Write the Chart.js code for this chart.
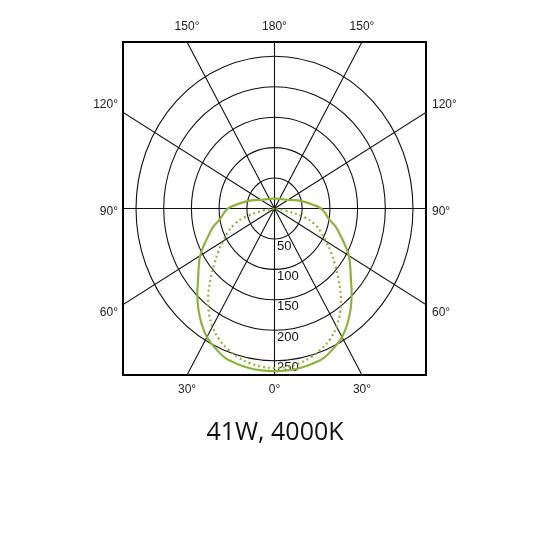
<!DOCTYPE html>
<html>
<head>
<meta charset="utf-8">
<script src="https://cdn.jsdelivr.net/npm/chart.js@4"></script>
<style>
  body { margin: 0; background: #fff; }
  #wrap { position: relative; width: 550px; height: 550px; }
  #title { position: absolute; left: 0; top: 412px; width: 550px; text-align: center;
           font-family: "Open Sans", sans-serif; font-size: 25px; line-height: 36px; color: #111; }
</style>
</head>
<body>
<div id="wrap">
  <canvas id="polarChart" width="550" height="550"></canvas>
  <div id="title">41W, 4000K</div>
</div>
<script>
// Angles measured from nadir (0° = straight down), degrees
const solidAngles = [0, 5, 10, 15, 20, 25, 30, 35, 40, 45, 50, 55, 60, 65, 70, 75, 80, 85, 90,
                     95, 100, 105, 110, 115, 120, 130, 140, 150, 160, 170, 180];
// C0-180 plane, candela values (solid line)
const solidValues = [267, 267, 266, 264, 261, 253, 244, 230, 214, 197, 180, 167, 155, 140, 126, 114, 100, 92, 84,
                     70, 58, 48, 40, 33, 28, 23, 20, 18, 17, 16.5, 16];

const dottedAngles = [0, 5, 10, 15, 20, 25, 30, 35, 40, 45, 50, 55, 60, 65, 70, 75, 80, 85];
// C90-270 plane (dotted line)
const dottedValues = [262, 261, 258, 253, 246, 237, 224, 207, 186, 163, 142, 124, 107, 93, 78, 56, 22, 0];

const rings = [50, 100, 150, 200, 250];
const spokes = [0, 30, 60, 90, 120, 150, 180, 210, 240, 270, 300, 330];
const axisMax = 273.5;

// turn a symmetric intensity curve into x/y points (left half then right half)
const toPoints = (angles, values) => {
    const pts = [];
    for (let i = angles.length - 1; i >= 0; i--) {
        const t = angles[i] * Math.PI / 180;
        pts.push({ x: -values[i] * Math.sin(t), y: -values[i] * Math.cos(t) });
    }
    for (let i = 1; i < angles.length; i++) {
        const t = angles[i] * Math.PI / 180;
        pts.push({ x: values[i] * Math.sin(t), y: -values[i] * Math.cos(t) });
    }
    return pts;
};

const sideShift = { 60: 8, 90: 3, 120: -8, 240: -8, 270: 3, 300: 8 };

const polarGrid = {
    id: 'polarGrid',
    beforeDatasetsDraw(chart) {
        const { ctx, chartArea: a, scales: { x, y } } = chart;
        const cx = x.getPixelForValue(0), cy = y.getPixelForValue(0);
        const kx = x.getPixelForValue(1) - cx, ky = cy - y.getPixelForValue(1);
        ctx.save();
        ctx.beginPath();
        ctx.rect(a.left, a.top, a.width, a.height);
        ctx.clip();
        ctx.strokeStyle = '#111';
        ctx.lineWidth = 1.1;
        rings.forEach(r => {
            ctx.beginPath();
            ctx.ellipse(cx, cy, r * kx, r * ky, 0, 0, Math.PI * 2);
            ctx.stroke();
        });
        spokes.forEach(deg => {
            const t = deg * Math.PI / 180;
            ctx.beginPath();
            ctx.moveTo(cx, cy);
            ctx.lineTo(x.getPixelForValue(1000 * Math.sin(t)), y.getPixelForValue(-1000 * Math.cos(t)));
            ctx.stroke();
        });
        ctx.restore();

        // radial value labels along the 0° spoke
        ctx.save();
        ctx.fillStyle = '#111';
        ctx.font = '13px "Liberation Sans", Arial, sans-serif';
        ctx.textAlign = 'left';
        ctx.textBaseline = 'middle';
        rings.forEach(r => {
            ctx.fillText(String(r), cx + 2.5, y.getPixelForValue(-r) + 7);
        });
        ctx.restore();
    },
    afterDraw(chart) {
        const { ctx, chartArea: a, scales: { x, y } } = chart;
        ctx.save();
        ctx.strokeStyle = '#000';
        ctx.lineWidth = 2;
        ctx.strokeRect(a.left, a.top, a.width, a.height);

        ctx.fillStyle = '#222';
        ctx.font = '12px "Liberation Sans", Arial, sans-serif';
        spokes.forEach(deg => {
            const t = deg * Math.PI / 180;
            const s = Math.sin(t), c = Math.cos(t);
            const k = axisMax / Math.max(Math.abs(s), Math.abs(c));
            const px = x.getPixelForValue(k * s), py = y.getPixelForValue(-k * c);
            const text = (deg <= 180 ? deg : 360 - deg) + '°';
            if (Math.abs(c) > Math.abs(s) + 1e-6) {
                ctx.textAlign = 'center';
                ctx.textBaseline = 'middle';
                ctx.fillText(text, px, c > 0 ? a.bottom + 15 : a.top - 15);
            } else {
                ctx.textBaseline = 'middle';
                const dy = sideShift[deg] || 0;
                if (s > 0) {
                    ctx.textAlign = 'left';
                    ctx.fillText(text, a.right + 6, py + dy);
                } else {
                    ctx.textAlign = 'right';
                    ctx.fillText(text, a.left - 5, py + dy);
                }
            }
        });
        ctx.restore();
    }
};

const ctx = document.getElementById('polarChart').getContext('2d');
new Chart(ctx, {
    type: 'scatter',
    data: {
        datasets: [{
            label: 'C0-180',
            data: toPoints(solidAngles, solidValues),
            showLine: true,
            borderColor: '#8db43a',
            borderWidth: 2.2,
            pointRadius: 0,
            tension: 0.4,
            fill: false
        }, {
            label: 'C90-270',
            data: toPoints(dottedAngles, dottedValues),
            showLine: true,
            borderColor: '#8db43a',
            borderWidth: 2.2,
            borderDash: [2, 3],
            pointRadius: 0,
            tension: 0.4,
            fill: false
        }]
    },
    options: {
        responsive: false,
        animation: false,
        layout: { padding: { left: 123, right: 124, top: 42, bottom: 175 } },
        plugins: {
            legend: { display: false },
            tooltip: { enabled: false }
        },
        scales: {
            x: { type: 'linear', min: -axisMax, max: axisMax, display: false },
            y: { type: 'linear', min: -axisMax, max: axisMax, display: false }
        }
    },
    plugins: [polarGrid]
});
</script>
</body>
</html>
